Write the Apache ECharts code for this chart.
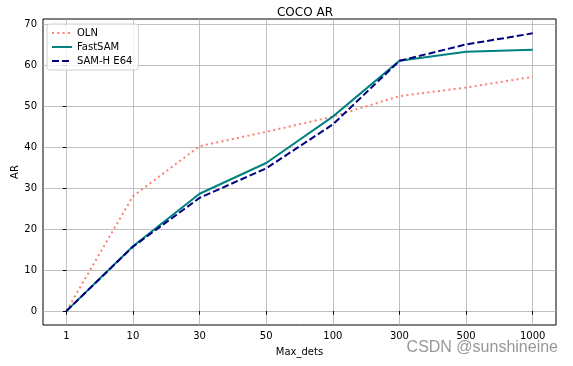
<!DOCTYPE html>
<html><head><meta charset="utf-8">
<script src="https://cdn.jsdelivr.net/npm/echarts@6/dist/echarts.min.js"></script>
<style>html,body{margin:0;padding:0;background:#fff}#c{width:573px;height:366px}</style>
</head><body><div id="c"></div>
<script>
const categories = ['1','10','30','50','100','300','500','1000'];
const oln = [0, 28.0, 40.2, 43.7, 47.4, 52.4, 54.5, 57.1];
const fastsam = [0, 15.8, 28.6, 36.1, 47.4, 61.0, 63.2, 63.7];
const samh = [0, 15.7, 27.6, 34.8, 45.5, 61.0, 65.0, 67.7];
const yTicks = [0,10,20,30,40,50,60,70];

const idx = categories.map((c,i)=>i);
const toPts = arr => arr.map((v,i)=>[i,v]);
const font = 'DejaVu Sans';
const chart = echarts.init(document.getElementById('c'));
chart.setOption({
  animation:false,
  title:{text:'COCO AR', left:300, top:2, textAlign:'center', textStyle:{fontFamily:font,fontSize:12,fontWeight:'normal',color:'#000'}},
  grid:{left:43,right:17,top:19,bottom:41,outerBoundsMode:'none',containLabel:false,show:true,borderColor:'#000',borderWidth:1,backgroundColor:'transparent'},
  legend:{left:47,top:24,orient:'vertical',itemWidth:20,itemHeight:10,itemGap:4,padding:[4,6,4,4],
    itemStyle:{opacity:0},
    backgroundColor:'rgba(255,255,255,0.8)',borderColor:'#d0d0d0',borderWidth:1,borderRadius:3,
    textStyle:{fontFamily:font,fontSize:10,color:'#000'},data:['OLN','FastSAM','SAM-H E64']},
  xAxis:{type:'value',min:-0.35,max:7.35,name:'Max_dets',nameLocation:'middle',nameGap:22,
    nameTextStyle:{fontFamily:font,fontSize:10,color:'#000'},
    axisLine:{show:false},
    axisTick:{show:true,length:3.5,customValues:idx,lineStyle:{color:'#000'}},
    axisLabel:{customValues:idx,formatter:v=>categories[Math.round(v)],fontFamily:font,fontSize:10,color:'#000',margin:6},
    splitLine:{show:true,lineStyle:{color:'#b0b0b0',width:0.8}}},
  yAxis:{type:'value',min:-3.39,max:71.2,
    axisLine:{show:false},
    axisTick:{show:true,length:3.5,customValues:yTicks,lineStyle:{color:'#000'}},
    axisLabel:{customValues:yTicks,fontFamily:font,fontSize:10,color:'#000',margin:6},
    splitLine:{show:true,lineStyle:{color:'#b0b0b0',width:0.8}}},
  series:[
    {name:'OLN',type:'line',data:toPts(oln),symbol:'none',color:'#FA8072',lineStyle:{color:'#FA8072',width:2,type:[2,3.3]}},
    {name:'FastSAM',type:'line',data:toPts(fastsam),symbol:'none',color:'#008080',lineStyle:{color:'#008080',width:2}},
    {name:'SAM-H E64',type:'line',data:toPts(samh),symbol:'none',color:'#000080',lineStyle:{color:'#000080',width:2,type:[7,3]}}
  ],
  graphic:[
    {type:'text',x:15,y:172,rotation:Math.PI/2,style:{text:'AR',fontFamily:font,fontSize:10,fill:'#000',align:'center',verticalAlign:'middle'}},
    {type:'text',right:15,top:340,style:{text:'CSDN @sunshineine',fontFamily:'Liberation Sans',fontSize:16,fill:'rgba(140,140,140,0.9)'}}
  ]
});
</script></body></html>
